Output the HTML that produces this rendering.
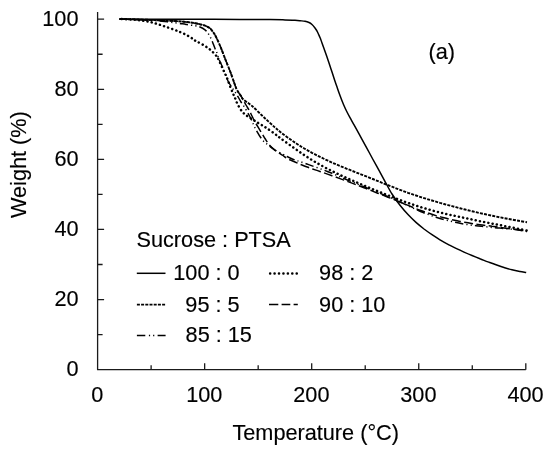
<!DOCTYPE html>
<html lang="en"><head><meta charset="utf-8"><title>TGA curves - Sucrose : PTSA</title>
<style>html,body{margin:0;padding:0;background:#fff;}body{width:550px;height:452px;overflow:hidden;}svg{display:block;}text{font-family:"Liberation Sans",sans-serif;font-size:21.7px;fill:#000;stroke:#000;stroke-width:0.15px;}.ax{stroke:#1a1a1a;stroke-width:1.3;fill:none;}.c{stroke:#000;fill:none;stroke-linejoin:round;}</style></head><body>
<svg width="550" height="452" viewBox="0 0 550 452">
<rect width="550" height="452" fill="#fff"/>
<path class="ax" stroke-linejoin="round" d="M97.6,12 V369.65 H525.8"/>
<path class="ax" d="M97.6,334.60h5M97.6,299.56h6.5M97.6,264.51h5M97.6,229.47h6.5M97.6,194.42h5M97.6,159.38h6.5M97.6,124.33h5M97.6,89.29h6.5M97.6,54.25h5M97.6,19.20h6.5M151.12,369.65v-4.5M204.65,369.65v-6.5M258.17,369.65v-4.5M311.70,369.65v-6.5M365.22,369.65v-4.5M418.75,369.65v-6.5M472.27,369.65v-4.5M525.80,369.65v-6.5"/>
<text x="78.5" y="376.4" text-anchor="end">0</text>
<text x="78.5" y="306.4" text-anchor="end">20</text>
<text x="78.5" y="236.3" text-anchor="end">40</text>
<text x="78.5" y="166.2" text-anchor="end">60</text>
<text x="78.5" y="96.1" text-anchor="end">80</text>
<text x="78.5" y="26.0" text-anchor="end">100</text>
<text x="97.3" y="402.1" text-anchor="middle">0</text>
<text x="204.3" y="402.1" text-anchor="middle">100</text>
<text x="311.4" y="402.1" text-anchor="middle">200</text>
<text x="418.4" y="402.1" text-anchor="middle">300</text>
<text x="525.5" y="402.1" text-anchor="middle">400</text>
<text transform="translate(26,164.6) rotate(-90)" text-anchor="middle">Weight (%)</text>
<text x="315.7" y="440.3" text-anchor="middle">Temperature (°C)</text>
<text x="441.8" y="58.6" text-anchor="middle">(a)</text>
<path class="c" stroke-width="1.5" d="M119.5,19.3C126.2,19.3 146.6,19.3 160.0,19.3C173.4,19.3 186.7,19.3 200.0,19.3C213.3,19.3 228.3,19.3 240.0,19.4C251.7,19.4 262.5,19.5 270.0,19.6C277.5,19.7 280.8,19.8 285.0,19.9C289.2,20.0 292.5,20.2 295.0,20.3C297.5,20.4 298.3,20.5 300.0,20.7C301.7,20.9 303.5,21.0 305.0,21.3C306.5,21.6 307.8,22.0 309.0,22.5C310.2,23.0 311.0,23.6 312.0,24.5C313.0,25.4 314.1,26.8 315.0,28.0C315.9,29.2 316.7,30.4 317.5,32.0C318.3,33.6 319.2,35.7 320.0,37.5C320.8,39.3 321.2,40.9 322.0,43.0C322.8,45.1 323.5,47.2 324.5,50.0C325.5,52.8 326.8,56.4 328.0,59.9C329.2,63.3 330.3,67.0 331.5,70.6C332.7,74.1 334.0,78.2 335.0,81.3C336.0,84.3 336.7,86.2 337.5,88.6C338.3,91.0 339.1,93.2 340.0,95.6C340.9,98.1 341.9,100.7 343.0,103.3C344.1,105.8 345.3,108.6 346.5,111.0C347.7,113.4 348.7,115.3 350.0,117.7C351.3,120.1 352.2,121.6 354.2,125.2C356.2,128.8 359.5,134.7 362.0,139.3C364.5,143.8 366.8,148.1 369.2,152.5C371.6,157.0 374.0,161.4 376.4,165.7C378.8,170.1 382.1,176.1 383.6,178.9C385.1,181.7 384.2,180.1 385.6,182.6C387.0,185.1 389.6,190.2 392.0,194.0C394.4,197.8 397.3,201.9 400.0,205.3C402.7,208.7 405.3,211.8 408.0,214.6C410.7,217.5 413.3,220.0 416.0,222.4C418.7,224.8 421.3,226.9 424.0,229.0C426.7,231.0 429.3,232.9 432.0,234.7C434.7,236.5 437.3,238.2 440.0,239.8C442.7,241.4 445.3,242.9 448.0,244.3C450.7,245.7 453.3,247.1 456.0,248.4C458.7,249.7 461.3,250.9 464.0,252.1C466.7,253.3 469.3,254.4 472.0,255.5C474.7,256.6 477.3,257.7 480.0,258.8C482.7,259.8 485.3,260.9 488.0,261.9C490.7,262.9 493.3,263.9 496.0,264.8C498.7,265.8 501.3,266.7 504.0,267.5C506.7,268.3 509.3,269.1 512.0,269.8C514.7,270.5 517.6,271.1 520.0,271.6C522.4,272.1 525.2,272.4 526.2,272.6"/>
<path class="c" stroke-width="1.9" stroke-dasharray="3 1.2" d="M119.5,19.0C122.1,19.1 129.9,19.2 135.0,19.4C140.1,19.5 145.5,19.7 150.0,19.9C154.5,20.1 157.8,20.2 162.0,20.4C166.2,20.6 171.0,20.8 175.0,21.0C179.0,21.2 182.7,21.5 186.0,21.9C189.3,22.3 192.7,22.8 195.0,23.2C197.3,23.6 198.3,23.9 200.0,24.3C201.7,24.7 203.3,24.9 205.0,25.6C206.7,26.3 208.7,27.2 210.0,28.3C211.3,29.4 212.2,30.9 213.0,32.0C213.8,33.1 214.2,33.5 215.0,35.0C215.8,36.5 217.0,38.8 218.0,41.0C219.0,43.2 219.8,45.1 221.0,48.0C222.2,50.9 223.5,54.7 225.0,58.5C226.5,62.3 228.3,66.6 230.0,71.0C231.7,75.4 233.8,81.8 235.0,85.0C236.2,88.2 236.0,88.2 237.0,90.0C238.0,91.8 240.0,94.5 241.0,96.0C242.0,97.5 241.2,97.5 243.0,99.2C244.8,100.9 248.8,103.3 252.0,106.0C255.2,108.7 259.2,112.8 262.0,115.5C264.8,118.2 266.8,120.0 269.0,122.0C271.2,124.0 273.2,125.9 275.0,127.5C276.8,129.1 277.8,130.0 280.0,131.7C282.2,133.4 285.3,135.9 288.0,137.8C290.7,139.7 293.3,141.5 296.0,143.3C298.7,145.0 301.3,146.7 304.0,148.3C306.7,149.8 309.3,151.3 312.0,152.8C314.7,154.2 317.3,155.6 320.0,156.9C322.7,158.2 325.3,159.5 328.0,160.7C330.7,162.0 333.3,163.1 336.0,164.3C338.7,165.4 341.3,166.5 344.0,167.6C346.7,168.7 349.3,169.8 352.0,170.8C354.7,171.9 357.3,172.9 360.0,174.0C362.7,175.0 365.3,176.1 368.0,177.1C370.7,178.2 373.3,179.3 376.0,180.3C378.7,181.4 381.3,182.5 384.0,183.6C386.7,184.6 389.3,185.7 392.0,186.7C394.7,187.8 397.3,188.8 400.0,189.8C402.7,190.8 405.3,191.8 408.0,192.8C410.7,193.7 413.3,194.6 416.0,195.5C418.7,196.4 421.3,197.3 424.0,198.1C426.7,198.9 429.3,199.7 432.0,200.5C434.7,201.3 437.3,202.1 440.0,202.9C442.7,203.6 445.3,204.4 448.0,205.1C450.7,205.8 453.3,206.5 456.0,207.2C458.7,207.9 461.3,208.6 464.0,209.3C466.7,209.9 469.3,210.6 472.0,211.2C474.7,211.8 477.3,212.5 480.0,213.1C482.7,213.7 485.3,214.3 488.0,214.8C490.7,215.4 493.3,216.0 496.0,216.5C498.7,217.1 501.3,217.6 504.0,218.1C506.7,218.6 509.3,219.1 512.0,219.6C514.7,220.1 517.5,220.6 520.0,221.0C522.5,221.5 525.8,222.0 527.0,222.2"/>
<path class="c" stroke-width="1.5" stroke-dasharray="9 3.4" d="M119.5,19.0C122.1,19.1 129.9,19.2 135.0,19.4C140.1,19.5 145.5,19.7 150.0,19.9C154.5,20.1 157.8,20.2 162.0,20.4C166.2,20.6 171.0,20.8 175.0,21.0C179.0,21.2 182.7,21.5 186.0,21.9C189.3,22.3 192.7,22.8 195.0,23.2C197.3,23.6 198.3,23.9 200.0,24.3C201.7,24.7 203.3,24.9 205.0,25.6C206.7,26.3 208.7,27.2 210.0,28.3C211.3,29.4 212.2,30.9 213.0,32.0C213.8,33.1 214.2,33.5 215.0,35.0C215.8,36.5 217.0,38.8 218.0,41.0C219.0,43.2 219.8,45.1 221.0,48.0C222.2,50.9 223.5,54.7 225.0,58.5C226.5,62.3 228.3,66.6 230.0,71.0C231.7,75.4 233.8,81.8 235.0,85.0C236.2,88.2 236.0,88.2 237.0,90.0C238.0,91.8 240.0,94.5 241.0,96.0C242.0,97.5 242.2,97.7 243.0,99.2C243.8,100.7 245.0,103.2 246.0,105.0C247.0,106.8 248.0,108.2 249.0,110.0C250.0,111.8 251.0,114.0 252.0,116.0C253.0,118.0 253.3,119.1 255.0,122.0C256.7,124.9 260.3,130.8 262.0,133.5C263.7,136.2 263.8,136.7 265.0,138.5C266.2,140.3 267.3,142.5 269.0,144.5C270.7,146.5 272.7,148.5 275.0,150.3C277.3,152.1 281.0,154.1 283.0,155.5C285.0,156.9 285.0,157.4 287.0,158.5C289.0,159.6 292.8,161.0 295.0,162.0C297.2,163.0 297.8,163.3 300.0,164.2C302.2,165.1 305.3,166.4 308.0,167.3C310.7,168.3 313.3,169.2 316.0,170.1C318.7,171.1 321.3,171.9 324.0,172.9C326.7,173.8 329.3,174.7 332.0,175.7C334.7,176.6 337.3,177.6 340.0,178.6C342.7,179.6 345.3,180.6 348.0,181.6C350.7,182.6 353.3,183.6 356.0,184.7C358.7,185.7 361.3,186.7 364.0,187.8C366.7,188.8 369.3,189.9 372.0,190.9C374.7,191.9 377.3,193.0 380.0,194.0C382.7,195.1 385.3,196.1 388.0,197.2C390.7,198.3 393.3,199.3 396.0,200.4C398.7,201.5 401.3,202.6 404.0,203.7C406.7,204.8 409.3,205.9 412.0,207.0C414.7,208.1 417.3,209.2 420.0,210.2C422.7,211.2 425.3,212.1 428.0,213.0C430.7,213.9 433.3,214.8 436.0,215.6C438.7,216.4 441.3,217.1 444.0,217.8C446.7,218.5 449.3,219.1 452.0,219.7C454.7,220.3 457.3,220.9 460.0,221.4C462.7,221.9 465.3,222.4 468.0,222.8C470.7,223.3 473.3,223.7 476.0,224.1C478.7,224.5 481.3,224.8 484.0,225.2C486.7,225.6 489.3,225.9 492.0,226.3C494.7,226.6 497.3,227.0 500.0,227.3C502.7,227.7 505.3,228.1 508.0,228.5C510.7,228.8 513.3,229.2 516.0,229.6C518.7,230.1 522.2,230.7 524.0,231.0C525.8,231.3 526.5,231.5 527.0,231.5"/>
<path class="c" stroke-width="1.5" stroke-dasharray="8.4 3.1 1.2 3.1 1.2 3.1" d="M119.5,19.0C122.1,19.1 129.9,19.4 135.0,19.6C140.1,19.8 145.5,20.1 150.0,20.4C154.5,20.7 157.8,20.9 162.0,21.3C166.2,21.7 171.0,22.2 175.0,22.7C179.0,23.2 182.7,23.9 186.0,24.4C189.3,24.9 192.7,25.4 195.0,25.8C197.3,26.2 198.3,26.3 200.0,27.0C201.7,27.7 203.8,28.9 205.0,29.8C206.2,30.7 206.7,31.4 207.5,32.5C208.3,33.6 209.2,34.9 210.0,36.5C210.8,38.1 211.7,40.0 212.5,42.0C213.3,44.0 214.3,46.9 215.0,48.5C215.7,50.1 215.9,49.9 216.5,51.5C217.1,53.1 217.6,55.6 218.5,58.0C219.4,60.4 220.8,63.2 222.0,66.0C223.2,68.8 224.4,71.8 225.5,74.5C226.6,77.2 227.2,79.6 228.5,82.0C229.8,84.4 231.6,86.8 233.0,89.0C234.4,91.2 235.7,92.8 237.0,95.0C238.3,97.2 239.7,99.8 241.0,102.0C242.3,104.2 243.7,105.8 245.0,108.0C246.3,110.2 247.8,112.8 249.0,115.0C250.2,117.2 251.0,118.9 252.0,121.0C253.0,123.1 253.1,124.4 254.8,127.5C256.5,130.6 259.8,136.5 262.0,139.4C264.2,142.3 266.0,143.2 268.0,144.8C270.0,146.5 271.5,147.7 274.0,149.3C276.5,150.9 280.8,153.3 283.0,154.5C285.2,155.7 285.0,155.6 287.0,156.5C289.0,157.4 292.8,159.2 295.0,160.0C297.2,160.8 297.8,160.9 300.0,161.6C302.2,162.3 305.3,163.5 308.0,164.4C310.7,165.4 313.3,166.3 316.0,167.2C318.7,168.2 321.3,169.1 324.0,170.1C326.7,171.2 329.3,172.2 332.0,173.3C334.7,174.4 337.3,175.6 340.0,176.7C342.7,177.9 345.3,179.1 348.0,180.2C350.7,181.3 353.3,182.4 356.0,183.5C358.7,184.6 361.3,185.7 364.0,186.8C366.7,187.9 369.3,188.9 372.0,190.0C374.7,191.1 377.3,192.2 380.0,193.3C382.7,194.4 385.3,195.5 388.0,196.6C390.7,197.7 393.3,198.9 396.0,200.1C398.7,201.3 401.3,202.6 404.0,203.8C406.7,205.1 409.3,206.4 412.0,207.6C414.7,208.9 417.3,210.1 420.0,211.3C422.7,212.4 425.3,213.5 428.0,214.4C430.7,215.4 433.3,216.3 436.0,217.2C438.7,218.1 441.3,218.8 444.0,219.6C446.7,220.3 449.3,221.0 452.0,221.6C454.7,222.2 457.3,222.8 460.0,223.3C462.7,223.8 465.3,224.3 468.0,224.7C470.7,225.1 473.3,225.4 476.0,225.7C478.7,226.1 481.3,226.3 484.0,226.6C486.7,226.9 489.3,227.2 492.0,227.4C494.7,227.7 497.3,227.9 500.0,228.1C502.7,228.4 505.3,228.6 508.0,228.9C510.7,229.1 513.3,229.4 516.0,229.6C518.7,229.9 522.2,230.3 524.0,230.5C525.8,230.8 526.5,230.9 527.0,230.9"/>
<path class="c" stroke-width="2.5" stroke-linecap="round" stroke-dasharray="0.1 4.2" stroke-dashoffset="2" d="M119.5,19.0C122.1,19.1 129.9,19.3 135.0,19.8C140.1,20.3 145.0,20.9 150.0,22.0C155.0,23.1 160.0,24.8 165.0,26.5C170.0,28.2 175.8,30.2 180.0,32.0C184.2,33.8 187.5,35.6 190.0,37.0C192.5,38.4 192.9,39.2 195.0,40.5C197.1,41.8 200.0,43.0 202.5,44.5C205.0,46.0 207.8,47.8 210.0,49.5C212.2,51.2 214.2,53.5 215.5,55.0C216.8,56.5 216.6,55.8 218.0,58.5C219.4,61.2 222.5,68.2 224.0,71.5C225.5,74.8 226.0,75.6 227.0,78.0C228.0,80.4 229.0,83.4 230.0,86.0C231.0,88.6 232.2,91.5 233.0,93.5C233.8,95.5 234.3,96.4 235.0,98.0C235.7,99.6 236.2,101.2 237.0,103.0C237.8,104.8 239.0,106.9 240.0,108.5C241.0,110.1 241.9,111.3 243.0,112.5C244.1,113.7 244.1,113.8 246.5,115.5C248.9,117.2 254.1,120.4 257.4,122.5C260.7,124.6 263.6,126.1 266.5,128.0C269.4,129.9 272.8,132.4 275.0,134.0C277.2,135.6 277.8,136.3 280.0,137.9C282.2,139.5 285.3,141.7 288.0,143.7C290.7,145.6 293.3,147.5 296.0,149.4C298.7,151.2 301.3,153.1 304.0,154.9C306.7,156.6 309.3,158.4 312.0,160.0C314.7,161.7 317.3,163.2 320.0,164.7C322.7,166.2 325.3,167.7 328.0,169.0C330.7,170.4 333.3,171.7 336.0,173.0C338.7,174.3 341.3,175.5 344.0,176.8C346.7,178.0 349.3,179.2 352.0,180.4C354.7,181.5 357.3,182.7 360.0,183.8C362.7,185.0 365.3,186.1 368.0,187.2C370.7,188.3 373.3,189.4 376.0,190.5C378.7,191.6 381.3,192.6 384.0,193.7C386.7,194.8 389.3,195.8 392.0,196.9C394.7,197.9 397.3,199.0 400.0,200.0C402.7,201.0 405.3,202.0 408.0,202.9C410.7,203.8 413.3,204.7 416.0,205.6C418.7,206.5 421.3,207.3 424.0,208.1C426.7,208.9 429.3,209.6 432.0,210.4C434.7,211.1 437.3,211.8 440.0,212.5C442.7,213.1 445.3,213.8 448.0,214.4C450.7,215.0 453.3,215.6 456.0,216.1C458.7,216.7 461.3,217.2 464.0,217.8C466.7,218.3 469.3,218.9 472.0,219.5C474.7,220.1 477.3,220.6 480.0,221.2C482.7,221.7 485.3,222.3 488.0,222.8C490.7,223.3 493.3,223.8 496.0,224.4C498.7,224.9 501.3,225.4 504.0,225.9C506.7,226.5 509.3,227.0 512.0,227.5C514.7,228.0 517.5,228.6 520.0,229.1C522.5,229.6 525.8,230.3 527.0,230.5"/>
<text x="136.5" y="246.5">Sucrose : PTSA</text>
<path class="c" stroke-width="1.5" d="M136.8,273.3H165.5"/>
<text x="239.6" y="280.4" text-anchor="end">100 : 0</text>
<path class="c" stroke-width="1.9" stroke-dasharray="3 1.2" d="M136.9,304.6H165.6"/>
<text x="239.6" y="311.5" text-anchor="end">95 : 5</text>
<path class="c" stroke-width="1.5" stroke-dasharray="8.4 3.6 1.2 3 1.2 3.3" d="M136.9,335.6H165.6"/>
<text x="185.6" y="342.3">85 : 15</text>
<path class="c" stroke-width="2.5" stroke-linecap="round" stroke-dasharray="0.1 4.33" d="M270.1,273.4H298"/>
<text x="319.1" y="280.4">98 : 2</text>
<path class="c" stroke-width="1.5" stroke-dasharray="9.3 3.3 8.7 3.3 5 9" d="M269,304.6H297.8"/>
<text x="319.1" y="311.5">90 : 10</text>
</svg></body></html>
